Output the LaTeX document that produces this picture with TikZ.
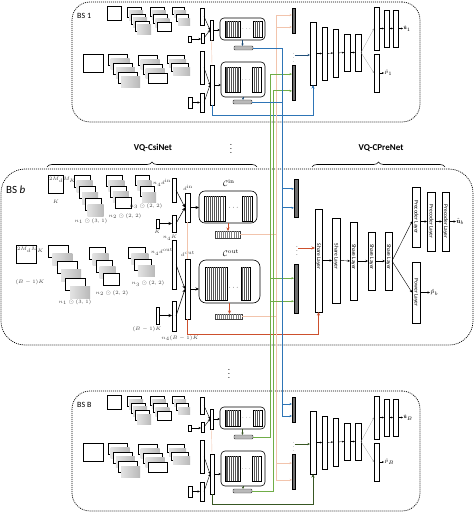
\documentclass[tikz,border=0pt]{standalone}
\usepackage{fontspec}
\newfontfamily\sfc{Carlito}
\usetikzlibrary{arrows.meta,calc,decorations.pathreplacing}
\definecolor{cblue}{RGB}{46,117,182}
\definecolor{cblueD}{RGB}{31,78,121}
\definecolor{cgreen}{RGB}{112,173,71}
\definecolor{cgreenD}{RGB}{56,87,35}
\definecolor{cred}{RGB}{205,80,45}
\definecolor{cpink}{RGB}{242,196,172}
\definecolor{qgray}{RGB}{110,110,110}
\definecolor{stripegray}{RGB}{85,85,85}
\tikzset{
 x=1pt,y=-1pt,
 bar/.style={draw,inner sep=0pt,outer sep=0pt,line width=0.5pt,fill=white},
 qbar/.style={bar,fill=qgray},
 mq/.style={bar,fill=qgray},
 panel/.style={draw,inner sep=0pt,outer sep=0pt,line width=0.7pt,dash pattern=on 1pt off 1pt,rounded corners=18pt},
 box/.style={draw,inner sep=0pt,outer sep=0pt,line width=0.6pt,rounded corners=4pt},
 mstrip/.style={draw=gray!40!black,fill=gray!55,inner sep=0pt,outer sep=0pt,line width=0.4pt,rounded corners=1pt},
 hstrip/.style={draw=gray!50!black,fill=white,inner sep=0pt,outer sep=0pt,line width=0.4pt},
 mstripe/.style={draw=stripegray,line width=1.4pt},
 bstripe/.style={draw=stripegray,line width=0.8pt},
 sstripe/.style={draw=gray,line width=0.4pt},
 mline/.style={cpink,line width=0.4pt},
 arr/.style={-{Stealth[length=3.5pt,width=3pt]},line width=0.5pt},
 sarr/.style={-{Stealth[length=2.5pt,width=2.2pt]},line width=0.4pt},
 tarr/.style={-{Stealth[length=2pt,width=1.8pt]},line width=0.3pt},
 tline/.style={tarr,gray!70},
 oarr/.style={-{Stealth[length=3.5pt,width=3pt]},line width=0.9pt},
 bline/.style={cblue,line width=0.9pt},
 gline/.style={cgreen,line width=0.9pt},
 pline/.style={cpink,line width=0.8pt},
 dotsn/.style={inner sep=0pt,font=\fontsize{5}{5}\selectfont},
 lab/.style={font=\fontsize{5}{6}\selectfont,text=black!75,inner sep=0.3pt},
 olab/.style={font=\fontsize{5.5}{6}\selectfont,inner sep=0.5pt},
 sl/.style={rotate=-90,font=\sfc\fontsize{5.5}{6}\selectfont,inner sep=0pt},
}
\newcommand\R[6]{\node[#6,minimum width={(#4)-(#2)},minimum height={(#5)-(#3)}] (#1) at ({((#2)+(#4))/2},{((#3)+(#5))/2}) {};}
\newcommand\stk[7]{%
 \foreach \i in {0,...,#7}{%
  \pgfmathtruncatemacro\stkm{mod(\i,2)}%
  \ifnum\stkm=0
   \draw[line width=0.55pt,fill=white] ({#1+\i*#5},{#2+\i*#6}) rectangle ++(#3,#4);
  \else
   \shade[left color=gray!22,right color=gray!55] ({#1+\i*#5},{#2+\i*#6}) rectangle ++(#3,#4);
  \fi}}
\newcommand\stripes[6]{%
 \draw[line width=0.5pt,fill=white] (#1,#2) rectangle (#3,#4);
 \foreach \k in {1,...,#5}{\draw[#6] ({#1+\k*(#3-(#1))/(#5+1)},#2) -- ({#1+\k*(#3-(#1))/(#5+1)},#4);}}
\newcommand\mini[7]{%
\begin{scope}[shift={(0,#2)}]
\R{#1frame}{72}{2}{420}{122}{panel}
\node[font=\sfc\fontsize{8}{9}\selectfont,anchor=west,inner sep=0pt] (#1name) at (77,16) {#3};
\R{#1sq1}{107}{6}{121}{20}{bar}
\stk{127}{7}{14}{10}{2}{3.6}{5}
\stk{150}{7}{14}{9}{1.75}{3.75}{4}
\stk{172}{7}{12}{7}{2}{3.7}{3}
\R{#1sq2}{83}{54}{103}{72}{bar}
\stk{108}{54}{19}{11}{2.6}{4.6}{5}
\stk{138}{55}{19}{10}{2.5}{4.5}{4}
\stk{167}{55}{17}{8}{2}{4.3}{3}
\R{#1e1}{200}{8}{204}{25}{bar}
\R{#1in1}{188}{36}{191}{42}{bar}
\R{#1e2}{201}{33}{204}{43}{bar}
\R{#1d1}{210}{20}{213}{40}{bar}
\R{#1e3}{200}{51}{204}{84}{bar}
\R{#1in2}{188}{97}{192}{108}{bar}
\R{#1e4}{200}{93}{204}{112}{bar}
\R{#1d2}{210}{65}{214}{105}{bar}
\draw[mline] (#1d1.south) -- (#1d2.north);
\R{#1box1}{220}{18}{265}{40}{box}
\R{#1box2}{221}{62}{265}{97}{box}
\stripes{225}{21}{240}{37}{6}{mstripe}
\stripes{253}{21}{262}{37}{3}{mstripe}
\stripes{225}{67}{240}{92}{6}{mstripe}
\stripes{252}{67}{261}{92}{3}{mstripe}
\node[dotsn] (#1c1) at (246.5,29) {$\cdots$};
\node[dotsn] (#1c2) at (246,80) {$\cdots$};
\R{#1s1}{234}{46}{253}{50}{mstrip}
\R{#1s2}{233}{100}{252}{104}{mstrip}
\draw[sarr] (#1in1.east) -- (#1in1.east -| #1e2.west);
\draw[sarr] (#1e1.east) -- (#1d1.west);
\draw[sarr] (#1e2.east) -- (#1d1.west);
\draw[sarr] (#1in2.east) -- (#1in2.east -| #1e4.west);
\draw[sarr] (#1e3.east) -- (#1d2.west);
\draw[sarr] (#1e4.east) -- (#1d2.west);
\draw[sarr] (#1d1.east) -- (#1d1.east -| #1box1.west);
\draw[sarr] (#1d2.east) -- (#1d2.east -| #1box2.west);
\draw[sarr,#5] (#1box1.south) -- (#1box1.south |- #1s1.north);
\draw[sarr,#5] (#1box2.south) -- (#1box2.south |- #1s2.north);
\R{#1q1}{292}{8}{295}{33}{mq}
\R{#1q2}{292}{65}{295}{100}{mq}
\coordinate (#1q1a) at ($(#1q1.north west)!0.28!(#1q1.south west)$);
\coordinate (#1q1b) at ($(#1q1.north west)!0.76!(#1q1.south west)$);
\coordinate (#1q2a) at ($(#1q2.north west)!0.26!(#1q2.south west)$);
\coordinate (#1q2b) at ($(#1q2.north west)!0.74!(#1q2.south west)$);
\node[dotsn] (#1dots) at (293.5,55) {$\vdots$};
\R{#1L1}{310}{22}{316}{85}{bar}
\R{#1L2}{322}{27}{327}{80}{bar}
\R{#1L3}{333}{29}{338}{77}{bar}
\R{#1L4}{344}{34}{350}{71}{bar}
\R{#1L5}{355}{34}{361}{71}{bar}
\R{#1P1}{374}{7}{379}{50}{bar}
\R{#1P2}{384}{10}{389}{47}{bar}
\R{#1P3}{393}{10}{398}{47}{bar}
\R{#1W}{374}{54}{379}{92}{bar}
\draw[sarr,#5] (#1dots.east) -- (#1dots.east -| #1L1.west);
\foreach \pa/\pb in {L1/L2,L2/L3,L3/L4,L4/L5,P1/P2,P2/P3}{\draw[tarr] (#1\pa.east) -- (#1\pb.west);}
\draw[tline] (#1L5.east) -- (#1P1.west);
\draw[tline] (#1L5.east) -- (#1W.west);
\node[olab,anchor=west] (#1u) at (403,28.5) {#6};
\node[olab,anchor=west] (#1p) at (384,73) {#7};
\draw[tarr] (#1P3.east) -- (#1u.west);
\draw[tarr] (#1W.east) -- (#1p.west);
\coordinate (#1ownc) at (313,115);
\draw[oarr,#4] (#1d2.south) |- (#1ownc) -- (#1L1.south);
\end{scope}}
\begin{document}
\begin{tikzpicture}
\useasboundingbox (0,0) rectangle (474,513);
% ---------- BS 1 and BS B ----------
\mini{a}{0}{BS 1}{cblue}{cblueD}{$\hat{\mathbf u}_1$}{$\hat p_1$}
\mini{c}{389}{BS B}{cgreenD}{cgreenD}{$\hat{\mathbf u}_B$}{$\hat p_B$}
% ---------- between panels ----------
\node[font=\fontsize{10}{10}\selectfont,inner sep=0pt] (vd1) at (231,146) {$\vdots$};
\node[font=\fontsize{10}{10}\selectfont,inner sep=0pt] (vd2) at (229,371) {$\vdots$};
\draw[decorate,decoration={brace,amplitude=5pt},line width=0.6pt] (47,167) -- (257,167);
\draw[decorate,decoration={brace,amplitude=5pt},line width=0.6pt] (312,167) -- (445,167);
\node[font=\sfc\bfseries\fontsize{9}{10}\selectfont] (vq1) at (153,148) {VQ-CsiNet};
\node[font=\sfc\bfseries\fontsize{9}{10}\selectfont] (vq2) at (381,148) {VQ-CPreNet};
% ---------- BS b ----------
\R{bframe}{1}{169}{473}{345}{panel,rounded corners=24pt}
\node[font=\sfc\fontsize{11}{12}\selectfont,anchor=west,inner sep=0pt] (bname) at (6,190) {BS \textit{b}};
% top row inputs
\R{bsq1}{48}{175}{63}{193}{bar}
\node[lab,anchor=north west] (bt1) at (48.5,177) {$2M_dM_K$};
\node[lab] (bt2) at (56,202) {$K$};
\stk{74}{175}{16}{12}{2.7}{5.8}{5}
\stk{106}{175}{16}{11}{2.3}{5.5}{4}
\stk{135}{175}{14}{10}{2.4}{5.8}{3}
\node[lab] (bt3) at (91,221) {$n_1\odot(3,1)$};
\node[lab] (bt4) at (125,216) {$n_2\odot(2,2)$};
\node[lab] (bt5) at (146,206) {$n_3\odot(2,2)$};
\node[lab] (bt6) at (162,183) {$n_4d^{\mathrm{in}}$};
% top encoder
\R{be1}{172}{178}{176}{202}{bar}
\R{bin1}{156}{219}{159}{228}{bar}
\R{be2}{172}{215}{176}{232}{bar}
\node[lab] (bt7) at (157.5,232) {$K$};
\node[lab] (bt8) at (170,238) {$n_4K$};
\R{bd1}{185}{193}{190}{222}{bar}
\node[lab] (bt9) at (188,188) {$d^{\mathrm{in}}$};
\R{bbox1}{199}{191}{257}{223}{box,rounded corners=6pt}
\node[font=\fontsize{8}{9}\selectfont,inner sep=0pt] (bt10) at (229,183) {$\mathcal{C}^{\mathrm{in}}$};
\stripes{204}{196}{225}{221}{9}{bstripe}
\stripes{242}{196}{252}{221}{4}{bstripe}
\node[font=\fontsize{7}{7}\selectfont,inner sep=0pt] (bc1) at (233.5,208) {$\cdots$};
\R{bs1}{215}{231}{240}{238}{hstrip}
\foreach \k in {1,...,11}{\draw[sstripe] ({215+\k*25/12},231) -- ({215+\k*25/12},238);}
% bottom row inputs
\R{bsq2}{16}{245}{36}{263}{bar}
\node[lab,anchor=north west] (bt11) at (16.5,247) {$2M_dM_K$};
\node[lab] (bt12) at (30,282) {$(B-1)K$};
\stk{48}{245}{20}{12}{4.4}{8.2}{5}
\stk{89}{247}{16}{12}{3.5}{6.5}{4}
\stk{128}{247}{17}{11}{3.3}{6.3}{3}
\node[lab] (bt13) at (75,302) {$n_1\odot(3,1)$};
\node[lab] (bt14) at (112,293) {$n_2\odot(2,2)$};
\node[lab] (bt15) at (148,283.5) {$n_3\odot(2,2)$};
\node[lab] (bt16) at (162,252) {$n_4d^{\mathrm{out}}$};
% bottom encoder
\R{be3}{172}{240}{176}{289}{bar}
\R{bin2}{156}{307}{159}{324}{bar}
\R{be4}{172}{301}{176}{331}{bar}
\node[lab] (bt17) at (147,329.5) {$(B-1)K$};
\node[lab] (bt18) at (180,338) {$n_4(B-1)K$};
\R{bd2}{185}{259}{190}{319}{bar}
\node[lab] (bt19) at (188,254) {$d^{\mathrm{out}}$};
\R{bbox2}{199}{260}{260}{303}{box,rounded corners=7pt}
\node[font=\fontsize{8}{9}\selectfont,inner sep=0pt] (bt20) at (231,253) {$\mathcal{C}^{\mathrm{out}}$};
\stripes{205}{267}{227}{300}{10}{bstripe}
\stripes{241}{267}{250}{300}{4}{bstripe}
\node[font=\fontsize{7}{7}\selectfont,inner sep=0pt] (bc2) at (233.5,288) {$\cdots$};
\R{bs2}{215}{314}{242}{319}{hstrip}
\foreach \k in {1,...,12}{\draw[sstripe] ({215+\k*27/13},314) -- ({215+\k*27/13},319);}
% encoder arrows
\draw[arr] (bin1.east) -- (bin1.east -| be2.west);
\draw[arr] (be1.east) -- (bd1.west);
\draw[arr] (be2.east) -- (bd1.west);
\draw[arr] (bin2.east) -- (bin2.east -| be4.west);
\draw[arr] (be3.east) -- (bd2.west);
\draw[arr] (be4.east) -- (bd2.west);
\draw[arr] (bd1.east) -- (bd1.east -| bbox1.west);
\draw[arr] (bd2.east) -- (bd2.east -| bbox2.west);
\draw[arr,cred] (bbox1.south) -- (bbox1.south |- bs1.north);
\draw[arr,cred] (bbox2.south) -- (bbox2.south |- bs2.north);
\draw[mline] (bd1.south) -- (bd2.north);
% decoder side
\R{bq1}{294}{179}{298}{217}{qbar}
\R{bq2}{294}{264}{298}{313}{qbar}
\coordinate (bq1a) at ($(bq1.north west)!0.26!(bq1.south west)$);
\coordinate (bq1b) at ($(bq1.north west)!0.76!(bq1.south west)$);
\coordinate (bq2a) at ($(bq2.north west)!0.29!(bq2.south west)$);
\coordinate (bq2b) at ($(bq2.north west)!0.76!(bq2.south west)$);
\node[font=\fontsize{7}{7}\selectfont,inner sep=0pt] (bdots) at (297,248) {$\vdots$};
\R{bL1}{315}{209}{322}{312}{bar}
\R{bL2}{332}{218}{340}{303}{bar}
\R{bL3}{350}{222}{357}{300}{bar}
\R{bL4}{368}{232}{375}{290}{bar}
\R{bL5}{385}{232}{392}{290}{bar}
\R{bP1}{412}{187}{420}{247}{bar}
\R{bP2}{427}{192}{435}{251}{bar}
\R{bP3}{442}{192}{449}{251}{bar}
\R{bW}{412}{262}{420}{323}{bar}
\foreach \n in {L1,L2,L3,L4,L5}{\node[sl] (b\n t) at ($(b\n)+(0,-4)$) {Share Layer};}
\foreach \n in {P1,P2,P3}{\node[sl] (b\n t) at (b\n) {Precoder Layer};}
\node[sl] (bWt) at (bW) {Power Layer};
\draw[arr,cred] (bdots.east) -- (bdots.east -| bL1.west);
\foreach \pa/\pb in {L1/L2,L2/L3,L3/L4,L4/L5,P2/P3}{\draw[sarr] (b\pa.east) -- (b\pb.west);}
\draw[sarr] (bP1.east |- bP2.center) -- (bP2.west);
\draw[sarr] (bL5.east) -- (bP1.west |- bP2.center);
\draw[sarr] (bL5.east) -- (bW.west);
\node[olab,anchor=west,font=\fontsize{6.5}{7}\selectfont] (bu) at (456,221.5) {$\hat{\mathbf u}_b$};
\node[olab,anchor=west,font=\fontsize{6.5}{7}\selectfont] (bp) at (430,292.5) {$\hat p_b$};
\draw[sarr] (bP3.east) -- (bu.west);
\draw[sarr] (bW.east) -- (bp.west);
\coordinate (bownc) at (318.5,334);
\draw[oarr,cred,line width=0.8pt] (bd2.south) |- (bownc) -- (bL1.south);
% ---------- shared lines ----------
\coordinate (vb) at (282,0);
\coordinate (vg1) at (270,0);
\coordinate (vg2) at (273,0);
\coordinate (vp) at (276,0);
% pink (from BS b)
\draw[pline] (bs1.east) -- (bs1.east -| vp);
\draw[pline] (bs2.east) -- (bs2.east -| vp);
\draw[pline] (vp |- aq1a) -- (vp |- cq2b);
\draw[pline,sarr,line width=0.8pt] (vp |- aq1a) -- (aq1a);
\draw[pline,sarr,line width=0.8pt] (vp |- aq1b) -- (aq1b);
\draw[pline,sarr,line width=0.8pt] (vp |- cq2a) -- (cq2a);
\draw[pline,sarr,line width=0.8pt] (vp |- cq2b) -- (cq2b);
% green (from BS B)
\draw[gline,sarr,line width=0.9pt] (cs1.east) -| (vg1 |- aq2a) -- (aq2a);
\draw[gline,sarr,line width=0.9pt] (cs2.east) -| (vg2 |- aq2b) -- (aq2b);
\draw[gline,sarr,line width=0.9pt] (vg1 |- bq2a) -- (bq2a);
\draw[gline,sarr,line width=0.9pt] (vg1 |- bq2b) -- (bq2b);
% blue (from BS 1)
\draw[bline,sarr,line width=0.9pt] (as1.east) -| (vb |- cq1b) -- (cq1b);
\draw[bline] (as2.east) -- (as2.east -| vb);
\draw[bline,sarr,line width=0.9pt] (vb |- cq1a) -- (cq1a);
\draw[bline,sarr,line width=0.9pt] (vb |- bq1a) -- (bq1a);
\draw[bline,sarr,line width=0.9pt] (vb |- bq1b) -- (bq1b);
\end{tikzpicture}
\end{document}
